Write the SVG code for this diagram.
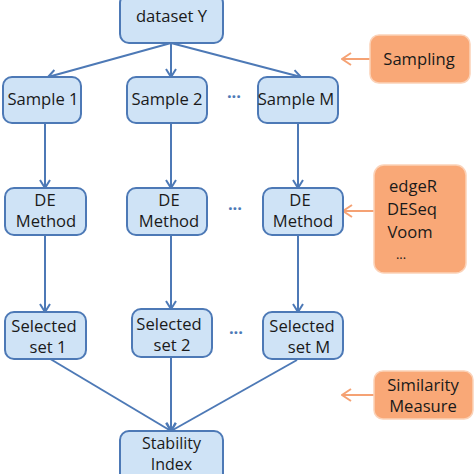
<svg xmlns="http://www.w3.org/2000/svg" width="474" height="474" viewBox="0 0 474 474">
<style>
.n{fill:#cfe3f6;stroke:#4d79b6;stroke-width:2}
.o{fill:#f9a877;stroke:#fbd2b8;stroke-width:1.5}
.t{font-family:"Open Sans","Noto Sans",sans-serif;font-size:16.6px;fill:#1a1a1a;text-anchor:middle}
.c{stroke:#4d79b6;stroke-width:2;fill:none;marker-end:url(#a)}
.oc{stroke:#f5a274;stroke-width:2;fill:none;marker-end:url(#b)}
.d{font-weight:bold;fill:#4d79b6}
</style>
<defs>
<marker id="a" viewBox="0 0 12 12" refX="11" refY="6" markerWidth="12" markerHeight="12" markerUnits="userSpaceOnUse" orient="auto"><path d="M3,1 L11,6 L3,11" fill="none" stroke="#4d79b6" stroke-width="2"/></marker>
<marker id="b" viewBox="0 0 14 14" refX="13" refY="7" markerWidth="14" markerHeight="14" markerUnits="userSpaceOnUse" orient="auto"><path d="M4,1 L13,7 L4,13" fill="none" stroke="#f5a274" stroke-width="2"/></marker>
</defs>
<rect width="474" height="474" fill="#fff"/>
<g id="connectors">
<line class="c" x1="171" y1="43" x2="48" y2="77"/>
<line class="c" x1="171" y1="43" x2="171" y2="77"/>
<line class="c" x1="171" y1="43" x2="301" y2="77"/>
<line class="c" x1="45" y1="123" x2="45" y2="188"/>
<line class="c" x1="171" y1="123" x2="171" y2="188"/>
<line class="c" x1="298" y1="123" x2="298" y2="188"/>
<line class="c" x1="45" y1="235" x2="45" y2="312"/>
<line class="c" x1="171" y1="235" x2="171" y2="309"/>
<line class="c" x1="298" y1="235" x2="298" y2="312"/>
<line class="c" x1="47" y1="357" x2="171" y2="431"/>
<line class="c" x1="171" y1="357" x2="171" y2="431"/>
<line class="c" x1="297" y1="360" x2="171" y2="431"/>
<line class="oc" x1="371" y1="59" x2="342" y2="59"/>
<line class="oc" x1="375" y1="211" x2="343" y2="211"/>
<line class="oc" x1="375" y1="395" x2="342" y2="395"/>
</g>
<g id="datasetY"><rect class="n" x="120" y="-6" width="103" height="49" rx="9"/><text class="t" x="171.5" y="22">dataset Y</text></g>
<g id="sample1"><rect class="n" x="3" y="77" width="78" height="46" rx="9"/><text class="t" x="43" y="105">Sample 1</text></g>
<g id="sample2"><rect class="n" x="127" y="77" width="80" height="46" rx="9"/><text class="t" x="167" y="105">Sample 2</text></g>
<g id="sampleM"><rect class="n" x="258" y="77" width="80" height="46" rx="9"/><text class="t" x="296" y="105">Sample M</text></g>
<text class="t d" x="234" y="102">···</text>
<g id="de1"><rect class="n" x="5" y="188" width="81" height="47" rx="9"/><text class="t" x="45" y="206">DE</text><text class="t" x="46" y="227">Method</text></g>
<g id="de2"><rect class="n" x="127" y="188" width="80" height="47" rx="9"/><text class="t" x="169" y="206">DE</text><text class="t" x="169" y="227">Method</text></g>
<g id="deM"><rect class="n" x="263" y="188" width="80" height="47" rx="9"/><text class="t" x="300" y="206">DE</text><text class="t" x="303" y="227">Method</text></g>
<text class="t d" x="235" y="214">···</text>
<g id="sel1"><rect class="n" x="5" y="312" width="81" height="47" rx="9"/><text class="t" x="44" y="332">Selected</text><text class="t" x="48" y="353">set 1</text></g>
<g id="sel2"><rect class="n" x="132" y="309" width="80" height="48" rx="9"/><text class="t" x="169" y="330">Selected</text><text class="t" x="172" y="351">set 2</text></g>
<g id="selM"><rect class="n" x="263" y="312" width="80" height="47" rx="9"/><text class="t" x="302" y="332">Selected</text><text class="t" x="309" y="353">set M</text></g>
<text class="t d" x="236" y="338">···</text>
<g id="stability"><rect class="n" x="120" y="431" width="103" height="55" rx="9"/><text class="t" x="171.5" y="449" style="font-size:16px">Stability</text><text class="t" x="171.5" y="470" style="font-size:16px">Index</text></g>
<g id="sampling"><rect class="o" x="370" y="35" width="100" height="48" rx="9"/><text class="t" x="419" y="65">Sampling</text></g>
<g id="methods"><rect class="o" x="374" y="165" width="92" height="108" rx="10"/>
<text class="t" x="413" y="192">edgeR</text><text class="t" x="412" y="215">DESeq</text><text class="t" x="410" y="238">Voom</text><text class="t" x="401" y="259" style="font-size:13px">...</text></g>
<g id="similarity"><rect class="o" x="374" y="371" width="99" height="48" rx="9"/><text class="t" x="423" y="391">Similarity</text><text class="t" x="423" y="412">Measure</text></g>
</svg>
